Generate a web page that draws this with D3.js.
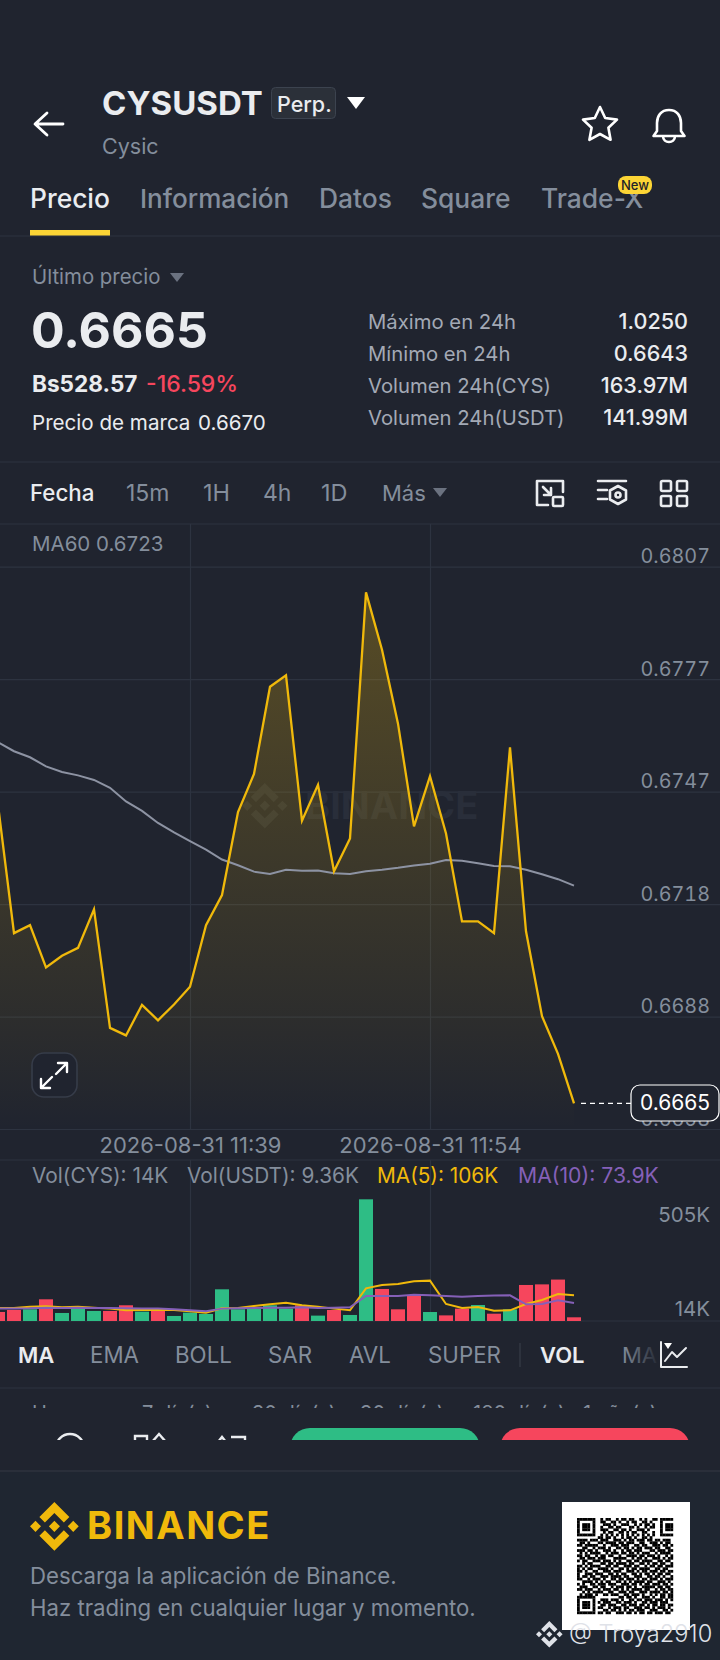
<!DOCTYPE html>
<html>
<head>
<meta charset="utf-8">
<script src="https://cdnjs.cloudflare.com/ajax/libs/d3/7.8.5/d3.min.js"></script>
<style>
html, body { margin: 0; padding: 0; background: #20242f; }
svg { display: block; font-family: "Inter", "Noto Sans", sans-serif; }
.y-axis text { font-variant-numeric: tabular-nums; }
</style>
</head>
<body>
<div id="chart"></div>
<script>
// one candle per minute
var minutes = ["11:27","11:28","11:29","11:30","11:31","11:32","11:33","11:34","11:35","11:36","11:37","11:38","11:39",
  "11:40","11:41","11:42","11:43","11:44","11:45","11:46","11:47","11:48","11:49","11:50","11:51","11:52","11:53","11:54",
  "11:55","11:56","11:57","11:58","11:59","12:00","12:01","12:02","12:03"];

var price = [0.67439,0.67099,0.6712,0.67008,0.67039,0.6706,0.67162,0.66848,0.66828,0.66909,0.66868,0.6691,0.66957,
  0.6712,0.6720,0.6742,0.67521,0.67752,0.67782,0.67397,0.67492,0.67263,0.6735,0.68002,0.6785,0.67654,0.67382,0.67515,
  0.67363,0.6713,0.6713,0.67099,0.67591,0.67104,0.66879,0.66779,0.66648];

var ma60 = [0.67605,0.67581,0.67565,0.67541,0.67526,0.67517,0.67505,0.67484,0.67448,0.67423,0.67391,0.67366,0.67343,
  0.6732,0.67294,0.67279,0.67262,0.67256,0.67267,0.67264,0.67265,0.67258,0.67256,0.67263,0.67267,0.67272,0.67278,0.67283,
  0.67293,0.67291,0.67284,0.67277,0.67276,0.67267,0.67255,0.67242,0.67225];

// volume in thousands, dir 1 = green, -1 = red
var volume = [36.2,44.5,47.3,88.9,32,51.4,40.4,40.4,64,37.6,44.5,19.5,33.4,27.9,130.5,47.3,50,64,50,64,21,44.5,23.7,
  505,131.9,47.3,107,36,22,50,65,29,47,148.5,151,171,14];
var volDir = [-1,-1,1,-1,1,1,1,-1,-1,1,-1,1,1,1,1,1,1,1,1,-1,1,-1,1,
  1,-1,-1,-1,1,-1,-1,1,-1,1,-1,-1,-1,-1];
var volMa5 = [52.8,52.8,58.4,59.8,55.6,58.4,54.2,50.1,43.1,44.5,44.5,44.5,39,33.4,51.4,52.8,61.2,68.1,75,63.9,58.4,50.1,43.1,
  134.7,148.5,152.7,163.8,166.6,69.5,52.8,57,41.7,43.1,69.5,86.1,111,106];
var volMa10 = [50.1,50.1,51.4,54.2,52.8,54.2,52.8,52.8,51.4,50.1,50.1,47.3,43.1,39,50.1,51.4,52.8,54.2,54.2,55.6,52.8,54.2,55.6,
  102.8,102.8,102.8,108.3,105.5,102.8,100,102.8,104.2,105.5,68.1,69.5,84.7,73.9];

var priceTicks = [0.6807,0.67772,0.67474,0.67176,0.66878,0.6658];
var volTicks = [505,14];
var timeTicks = ["11:39","11:54"];

var qrMid = [
"01011001011011001010011","01100110100101100110100","00111010011100101011010","01001101100011010010110",
"01110011011010011101000","00101100110101100110010","01010101010101010101010"];
var qrBody = [
"0000000011011010010110100110100000000","1111011101110011101011011101101101110","0110100011011110110111001100111010110",
"1101111100100111011100110110011101101","0011001011101001101101011011101100110","1110110100111010010110111000110111011",
"0101011110010111011011010111001011110","1101100101101100100111101101110100101","0110111011100011111001011010011101011",
"1011001110111010100110110111100110110","0010110001101101111011001101011011001","1101011110011011001110110010110110111",
"1010110011110100110101101111001101100","1101001100111011100111010110111011011","1001110111001101011001101011010110110",
"1011011001110111101100111001101101001","1100101110100110110111010110111010111","0011110101011001101010111101100111010",
"1010011011101110011101101011011101101","0111001101100101110110100111110110110","1101110010111011010101111011001011011",
"0010101111001100111011001110111101101","0101110100110111001101110100101011011"];
var qrBottom = [
"00000000110110100111010011011010110","01110111010011011011101110101110011","10111001101110100110111011100110110",
"01101110011011101101011011011101100","11001011101100111011010111010011011","00110110101011011100111001101101101","11011001110110101101101110110011011"];
var qrBottomTail = ["01","11","10","11","01","01","10"];

var bg = "#20242f", grid = "#2d3340", muted = "#848e9c", white = "#eaecef",
    yellow = "#f0b90b", green = "#2ebd85", red = "#f6465d", purple = "#8560b8";
var logoPath = "M38.73 53.2l24.59-24.58 24.6 24.6 14.3-14.31L63.32 0 24.42 38.9zM0 63.31l14.3-14.31 14.31 14.31-14.31 14.3zM38.73 73.41l24.59 24.59 24.6-24.6 14.31 14.29-38.9 38.91-38.91-38.88zM98 63.31L112.3 49l14.31 14.3-14.31 14.32zM77.83 63.3L63.32 48.78 52.59 59.51l-1.24 1.23-2.54 2.54 14.51 14.5 14.51-14.47z";

var svg = d3.select("#chart").append("svg").attr("width", 720).attr("height", 1660);
svg.append("rect").attr("width", 720).attr("height", 1660).attr("fill", bg);

var defs = svg.append("defs");

function txt(x, y, s, size, fill, weight, anchor) {
  return svg.append("text").attr("x", x).attr("y", y).text(s)
    .attr("font-size", size).attr("fill", fill)
    .attr("font-weight", weight || 400).attr("text-anchor", anchor || "start");
}
function hline(y, color) {
  svg.append("line").attr("x1", 0).attr("x2", 720).attr("y1", y).attr("y2", y).attr("stroke", color || grid).attr("stroke-width", 1.2);
}
function tri(x, y, w, h, color) {
  svg.append("path").attr("d", "M" + x + " " + y + "h" + w + "l" + (-w / 2) + " " + h + "z").attr("fill", color);
}
function icon(d, color, sw) {
  return svg.append("path").attr("d", d).attr("fill", "none").attr("stroke", color || white)
    .attr("stroke-width", sw || 2.6).attr("stroke-linejoin", "round").attr("stroke-linecap", "round");
}

// header
icon("M63 124H36M47 113L35 124L47 135", "#fff", 2.8);
txt(102, 115, "CYSUSDT", 33, white, 700);
svg.append("rect").attr("x", 271.5).attr("y", 87.5).attr("width", 64).attr("height", 31).attr("rx", 4).attr("fill", "#2b3039").attr("stroke", "#3c434f");
txt(277, 112, "Perp.", 21.5, white, 500);
tri(347, 97, 18, 12, "#fff");
txt(102, 154, "Cysic", 21.5, muted);
icon("M600 107l5.2 11 11.8 1.6-8.6 8.2 2.2 12-10.6-5.8-10.6 5.8 2.2-12-8.6-8.2 11.8-1.6z", "#fff", 2.6);
icon("M669 110c-8 0-12 6-12 13v8l-3.5 5h31l-3.5-5v-8c0-7-4-13-12-13zM663 136c0 8 12 8 12 0", "#fff", 2.6);

// tabs
txt(30, 208, "Precio", 26.4, white, 500);
txt(140, 208, "Información", 26.1, muted, 500);
txt(319, 208, "Datos", 26.4, muted, 500);
txt(421, 208, "Square", 26.4, muted, 500);
txt(541, 208, "Trade-X", 26.4, muted, 500);
svg.append("rect").attr("x", 618).attr("y", 176).attr("width", 34).attr("height", 18).attr("rx", 8).attr("fill", "#fcd535");
txt(635, 190, "New", 13, "#1e2329", 500, "middle");
svg.append("rect").attr("x", 30).attr("y", 230).attr("width", 80).attr("height", 6).attr("fill", "#fcd535");
hline(236);

// price block
txt(32, 284, "Último precio", 20.4, muted);
tri(170, 273, 14, 9, "#6b7280");
txt(31, 348, "0.6665", 50, white, 700);
txt(32, 392, "Bs528.57", 22.6, white, 700);
txt(146, 392, "-16.59%", 23, red, 500);
txt(32, 430, "Precio de marca", 20.6, white);
txt(198, 430, "0.6670", 20.6, white);

txt(368, 329, "Máximo en 24h", 20.3, "#a3a9b5");
txt(368, 361, "Mínimo en 24h", 20.3, "#a3a9b5");
txt(368, 393, "Volumen 24h(CYS)", 20.3, "#a3a9b5");
txt(368, 425, "Volumen 24h(USDT)", 20.3, "#a3a9b5");
txt(688, 329, "1.0250", 21.6, white, 500, "end");
txt(688, 361, "0.6643", 21.6, white, 500, "end");
txt(688, 393, "163.97M", 21.6, white, 500, "end");
txt(688, 425, "141.99M", 21.6, white, 500, "end");
hline(462);

// period row
txt(30, 501, "Fecha", 22.3, white, 500);
txt(126, 501, "15m", 23, muted);
txt(203, 501, "1H", 23.5, muted);
txt(263, 501, "4h", 23, muted);
txt(321, 501, "1D", 23.5, muted);
txt(382, 501, "Más", 22, muted);
tri(433, 488, 14, 9, "#6b7280");
icon("M563 492V481H537V505H548M543 487L551 495M551 488V495H544");
svg.append("rect").attr("x", 553).attr("y", 497).attr("width", 10).attr("height", 9).attr("rx", 1).attr("fill", "none").attr("stroke", white).attr("stroke-width", 2.6);
icon("M598 481H626M598 490H607M598 499H607M618 486L626 490.500V499.500L618 504L610 499.500V490.500Z");
svg.append("circle").attr("cx", 618).attr("cy", 495).attr("r", 2.500).attr("fill", "none").attr("stroke", white).attr("stroke-width", 2.6);
[[661, 481], [677, 481], [661, 496], [677, 496]].forEach(function (p) {
  svg.append("rect").attr("x", p[0]).attr("y", p[1]).attr("width", 10).attr("height", 10).attr("rx", 1.5).attr("fill", "none").attr("stroke", white).attr("stroke-width", 2.6);
});
hline(524);

// scales
var x = d3.scalePoint().domain(minutes).range([-2, 574]);
var y = d3.scaleLinear().domain([0.6658, 0.6807]).range([1129, 566.7]);
var yVol = d3.scaleLinear().domain([14, 505]).range([1317.3, 1199.3]);

// grid and tick labels
var yAxis = svg.append("g").attr("class", "y-axis")
  .call(d3.axisRight(y).tickValues(priceTicks).tickSize(720).tickFormat(d3.format(".4f")));
yAxis.select(".domain").remove();
yAxis.selectAll("line").attr("stroke", grid).attr("stroke-width", 1.2);
yAxis.selectAll("text").attr("x", 710).attr("dy", -4).attr("text-anchor", "end")
  .attr("font-size", 19.8).attr("font-family", "Inter").attr("fill", muted);

var xAxis = svg.append("g").attr("transform", "translate(0,1129)")
  .call(d3.axisBottom(x).tickValues(timeTicks).tickSize(-605).tickFormat(function (d) { return "2026-08-31 " + d; }));
xAxis.select(".domain").remove();
xAxis.selectAll("line").attr("stroke", grid).attr("stroke-width", 1.2);
xAxis.selectAll("text").attr("y", 24).attr("dy", 0).attr("font-size", 22).attr("font-family", "Inter").attr("fill", muted);

// watermark
svg.append("path").attr("d", logoPath).attr("fill", "#2b303a").attr("transform", "translate(242,783) scale(0.36)");
txt(305, 819, "BINANCE", 38, "#292e3a", 700);

// area + lines
var grad = defs.append("linearGradient").attr("id", "areaFill").attr("gradientUnits", "userSpaceOnUse")
  .attr("x1", 0).attr("x2", 0).attr("y1", 590).attr("y2", 1129);
grad.append("stop").attr("offset", 0).attr("stop-color", yellow).attr("stop-opacity", 0.27);
grad.append("stop").attr("offset", 0.45).attr("stop-color", yellow).attr("stop-opacity", 0.15);
grad.append("stop").attr("offset", 0.8).attr("stop-color", yellow).attr("stop-opacity", 0.06);
grad.append("stop").attr("offset", 1).attr("stop-color", yellow).attr("stop-opacity", 0);

var area = d3.area().x(function (d, i) { return x(minutes[i]); }).y0(1129).y1(function (d) { return y(d); });
var line = d3.line().x(function (d, i) { return x(minutes[i]); }).y(function (d) { return y(d); });

svg.append("path").datum(price).attr("d", area).attr("fill", "url(#areaFill)");
svg.append("path").datum(ma60).attr("d", line).attr("fill", "none").attr("stroke", "#8d93a3").attr("stroke-width", 2);
svg.append("path").datum(price).attr("d", line).attr("fill", "none").attr("stroke", yellow).attr("stroke-width", 2.3);

txt(32, 551, "MA60 0.6723", 20.5, muted);

// expand button
svg.append("rect").attr("x", 32).attr("y", 1053).attr("width", 45).attr("height", 44).attr("rx", 12).attr("fill", bg).attr("stroke", "#363c49").attr("stroke-width", 1.6);
icon("M56 1074L67 1063M58 1063H67V1072M52 1077L41 1088M41 1079V1088H50", "#fff", 2.4);

// last price tag
svg.append("line").attr("x1", 581).attr("x2", 631).attr("y1", y(0.66648)).attr("y2", y(0.66648))
  .attr("stroke", "#fff").attr("stroke-width", 1.2).attr("stroke-dasharray", "5,4");
svg.append("rect").attr("x", 631).attr("y", 1085).attr("width", 88).attr("height", 36).attr("rx", 9).attr("fill", bg).attr("stroke", "#fff").attr("stroke-width", 1.2);
txt(710, 1110, "0.6665", 21, "#fff", 400, "end");

// volume panel
hline(1160);
var xAxis2 = svg.append("g").attr("transform", "translate(0,1321)")
  .call(d3.axisBottom(x).tickValues(timeTicks).tickSize(-161).tickFormat(""));
xAxis2.select(".domain").remove();
xAxis2.selectAll("line").attr("stroke", grid).attr("stroke-width", 1.2);
hline(1321);

txt(32, 1183, "Vol(CYS): 14K", 20.8, muted);
txt(187, 1183, "Vol(USDT): 9.36K", 20.8, muted);
txt(377, 1183, "MA(5): 106K", 20.8, yellow);
txt(518, 1183, "MA(10): 73.9K", 21.2, purple);

var yVolAxis = svg.append("g").call(d3.axisRight(yVol).tickValues(volTicks).tickSize(0).tickFormat(function (d) { return d + "K"; }));
yVolAxis.select(".domain").remove();
yVolAxis.selectAll("text").attr("x", 710).attr("dy", 0).attr("text-anchor", "end")
  .attr("y", function (d) { return d === 505 ? 22 : -2; })
  .attr("font-size", 20.5).attr("font-family", "Inter").attr("fill", muted);

svg.selectAll("rect.vol").data(volume).enter().append("rect").attr("class", "vol")
  .attr("x", function (d, i) { return x(minutes[i]) - 7; })
  .attr("y", function (d) { return yVol(d); })
  .attr("width", 14)
  .attr("height", function (d) { return 1321 - yVol(d); })
  .attr("fill", function (d, i) { return volDir[i] > 0 ? green : red; });

var volLine = d3.line().x(function (d, i) { return x(minutes[i]); }).y(function (d) { return yVol(d); });
svg.append("path").datum(volMa5).attr("d", volLine).attr("fill", "none").attr("stroke", yellow).attr("stroke-width", 2);
svg.append("path").datum(volMa10).attr("d", volLine).attr("fill", "none").attr("stroke", purple).attr("stroke-width", 2);

// indicator row
txt(18, 1363, "MA", 22, white, 600);
txt(90, 1363, "EMA", 22.3, muted);
txt(175, 1363, "BOLL", 22.3, muted);
txt(268, 1363, "SAR", 22.3, muted);
txt(349, 1363, "AVL", 22.3, muted);
txt(428, 1363, "SUPER", 22.3, muted);
svg.append("line").attr("x1", 520).attr("x2", 520).attr("y1", 1343).attr("y2", 1367).attr("stroke", "#3a404c");
txt(540, 1363, "VOL", 22, white, 600);
var fade = defs.append("linearGradient").attr("id", "fadeMa").attr("gradientUnits", "userSpaceOnUse").attr("x1", 622).attr("x2", 656).attr("y1", 0).attr("y2", 0);
fade.append("stop").attr("offset", 0).attr("stop-color", muted);
fade.append("stop").attr("offset", 1).attr("stop-color", muted).attr("stop-opacity", 0.1);
txt(622, 1363, "MA", 22, "url(#fadeMa)");
icon("M661 1342V1367H687M665 1361L672 1352L677 1357L686 1348", white, 2);
tri(664, 1343, 8, 6, "#fff");
hline(1388);

// rows cut off by the screenshot
defs.append("clipPath").attr("id", "cutRow").append("rect").attr("x", 0).attr("y", 1395).attr("width", 720).attr("height", 13);
defs.append("clipPath").attr("id", "cutBtn").append("rect").attr("x", 0).attr("y", 1420).attr("width", 720).attr("height", 20);
var rowG = svg.append("g").attr("clip-path", "url(#cutRow)");
[["Hoy", 32], ["7 día(s)", 142], ["30 día(s)", 252], ["90 día(s)", 360], ["180 día(s)", 473], ["1 año(s)", 583]].forEach(function (p) {
  rowG.append("text").attr("x", p[1]).attr("y", 1420).text(p[0]).attr("font-size", 20).attr("fill", muted);
});
var btnG = svg.append("g").attr("clip-path", "url(#cutBtn)");
btnG.append("rect").attr("x", 290).attr("y", 1428).attr("width", 190).attr("height", 44).attr("rx", 20).attr("fill", green);
btnG.append("rect").attr("x", 500).attr("y", 1428).attr("width", 190).attr("height", 44).attr("rx", 20).attr("fill", red);
btnG.append("circle").attr("cx", 70).attr("cy", 1448).attr("r", 14).attr("fill", "none").attr("stroke", white).attr("stroke-width", 2.4);
btnG.append("path").attr("d", "M135 1445V1436H147V1445M152 1442L159 1434L166 1442").attr("fill", "none").attr("stroke", white).attr("stroke-width", 2.4);
btnG.append("path").attr("d", "M218 1442L222 1437L226 1442M231 1437H245V1445").attr("fill", "none").attr("stroke", white).attr("stroke-width", 2.4);

// footer
hline(1471, "#343a46");
svg.append("rect").attr("y", 1472).attr("width", 720).attr("height", 188).attr("fill", "#1f2631");
svg.append("path").attr("d", logoPath).attr("fill", yellow).attr("transform", "translate(30,1502) scale(0.385)");
txt(87, 1539, "BINANCE", 38, yellow, 700).attr("letter-spacing", 1.5);
txt(30, 1584, "Descarga la aplicación de Binance.", 22.2, muted);
txt(30, 1616, "Haz trading en cualquier lugar y momento.", 22.2, muted);

// qr code
svg.append("rect").attr("x", 562).attr("y", 1502).attr("width", 128).attr("height", 128).attr("fill", "#fff");
var finder = ["1111111","1000001","1011101","1011101","1011101","1000001","1111111"];
var qrRows = finder.map(function (f, i) { return f + "0" + qrMid[i] + "0" + f; })
  .concat(qrBody)
  .concat(finder.map(function (f, i) { return f + "0" + qrBottom[i] + qrBottomTail[i]; }));
var cells = [];
qrRows.forEach(function (row, r) {
  row.split("").forEach(function (c, k) { if (c === "1" && k < 37) cells.push([k, r]); });
});
var qr = d3.scaleLinear().domain([0, 37]).range([0, 96]);
svg.append("g").attr("transform", "translate(577,1518)").selectAll("rect").data(cells).enter().append("rect")
  .attr("x", function (d) { return qr(d[0]); }).attr("y", function (d) { return qr(d[1]); })
  .attr("width", qr(1) + 0.2).attr("height", qr(1) + 0.2).attr("fill", "#000");

// watermark bottom right
svg.append("path").attr("d", logoPath).attr("fill", "#dfe2e8").attr("transform", "translate(536,1621) scale(0.21)");
txt(569, 1642, "@ Troya2910", 23.6, "#dfe2e8", 300);
</script>
</body>
</html>
